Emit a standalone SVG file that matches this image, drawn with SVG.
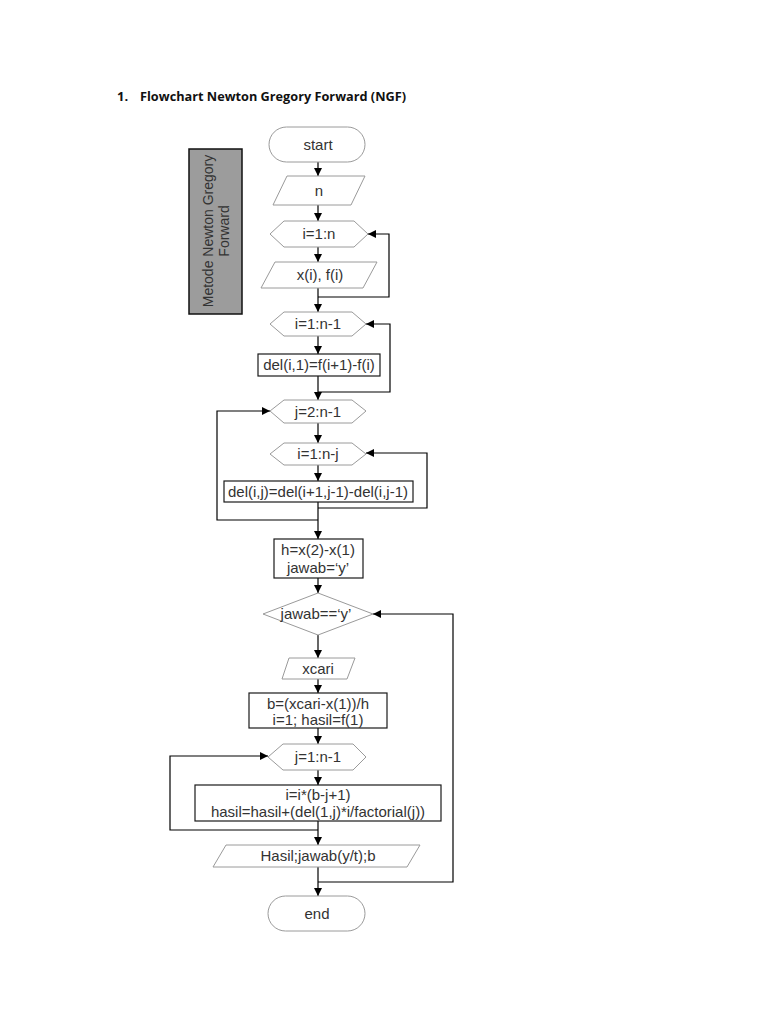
<svg xmlns="http://www.w3.org/2000/svg" width="768" height="1024" viewBox="0 0 768 1024">
<defs>
<marker id="arr" markerUnits="userSpaceOnUse" markerWidth="9" markerHeight="8" refX="8" refY="4" orient="auto">
<path d="M0,0 L8,4 L0,8 z" fill="#000"/>
</marker>
<style>
.soft{fill:#fff;stroke:#9a9a9a;stroke-width:1}
.box{fill:#fff;stroke:#1a1a1a;stroke-width:1.2}
.t{font-family:"Liberation Sans",Arial,sans-serif;font-size:15px;fill:#333;text-anchor:middle}
.s{font-family:"Liberation Sans",Arial,sans-serif;font-size:14px;fill:#333;text-anchor:middle}
.c{fill:none;stroke:#000;stroke-width:1.2;marker-end:url(#arr)}
</style>
</defs>
<rect width="768" height="1024" fill="#fff"/>
<text x="117" y="101" font-family="'Open Sans','Liberation Sans',sans-serif" font-weight="bold" font-size="13" fill="#111">1.</text>
<text x="140" y="101" font-family="'Open Sans','Liberation Sans',sans-serif" font-weight="bold" font-size="13" fill="#111" textLength="266" lengthAdjust="spacingAndGlyphs">Flowchart Newton Gregory Forward (NGF)</text>

<g id="side-label">
<rect x="189" y="149" width="53" height="165" fill="#9c9c9c" stroke="#111" stroke-width="1.5"/>
<text class="s" transform="translate(213,231) rotate(-90)">Metode Newton Gregory</text>
<text class="s" transform="translate(229,231) rotate(-90)">Forward</text>
</g>

<g id="connectors">
<path class="c" d="M318,162 V176"/>
<path class="c" d="M318,205 V221"/>
<path class="c" d="M318,247 V262"/>
<path class="c" d="M318,288 V312"/>
<path class="c" d="M318,297 H389 V234 H368"/>
<path class="c" d="M318,336 V354"/>
<path class="c" d="M318,376 V400"/>
<path class="c" d="M318,392 H390 V324 H366"/>
<path class="c" d="M318,423 V443"/>
<path class="c" d="M318,465 V481"/>
<path class="c" d="M318,502 V539"/>
<path class="c" d="M318,508 H427 V453 H366"/>
<path class="c" d="M318,520 H217 V411 H270"/>
<path class="c" d="M318,578 V593"/>
<path class="c" d="M318,635 V658"/>
<path class="c" d="M318,679 V693"/>
<path class="c" d="M318,728 V744"/>
<path class="c" d="M318,770 V785"/>
<path class="c" d="M318,821 V845"/>
<path class="c" d="M318,830 H170 V756 H268"/>
<path class="c" d="M318,867 V896"/>
<path class="c" d="M318,882 H453 V614 H373"/>
</g>

<g id="start">
<rect class="soft" x="269" y="127" width="96" height="35" rx="17.5"/>
<text class="t" x="318" y="150">start</text>
</g>
<g id="input-n">
<polygon class="soft" points="287,176 365,176 351,205 273,205"/>
<text class="t" x="319" y="196">n</text>
</g>
<g id="loop-i-n">
<polygon class="soft" points="270,234 284,221 354,221 368,234 354,247 284,247"/>
<text class="t" x="319" y="239">i=1:n</text>
</g>
<g id="input-xf">
<polygon class="soft" points="275,262 377,262 363,288 261,288"/>
<text class="t" x="320" y="280">x(i), f(i)</text>
</g>
<g id="loop-i-n1">
<polygon class="soft" points="270,324 284,312 352,312 366,324 352,336 284,336"/>
<text class="t" x="318" y="329">i=1:n-1</text>
</g>
<g id="del-i1">
<rect class="box" x="258" y="354" width="122" height="22"/>
<text class="t" x="319" y="370">del(i,1)=f(i+1)-f(i)</text>
</g>
<g id="loop-j">
<polygon class="soft" points="270,411 284,400 352,400 366,411 352,423 284,423"/>
<text class="t" x="318" y="417">j=2:n-1</text>
</g>
<g id="loop-i-nj">
<polygon class="soft" points="270,454 284,443 352,443 366,454 352,465 284,465"/>
<text class="t" x="318" y="459">i=1:n-j</text>
</g>
<g id="del-ij">
<rect class="box" x="224" y="481" width="189" height="21"/>
<text class="t" x="318" y="497">del(i,j)=del(i+1,j-1)-del(i,j-1)</text>
</g>
<g id="init-h">
<rect class="box" x="274" y="539" width="89" height="39"/>
<text class="t" x="318" y="555">h=x(2)-x(1)</text>
<text class="t" x="318" y="573">jawab=‘y’</text>
</g>
<g id="decision">
<polygon class="soft" points="318,593 373,614 318,635 263,614"/>
<text class="t" x="316" y="619">jawab==‘y’</text>
</g>
<g id="input-xcari">
<polygon class="soft" points="289,658 355,658 347,679 282,679"/>
<text class="t" x="318" y="674">xcari</text>
</g>
<g id="calc-b">
<rect class="box" x="249" y="693" width="138" height="35"/>
<text class="t" x="318" y="709">b=(xcari-x(1))/h</text>
<text class="t" x="318" y="725">i=1; hasil=f(1)</text>
</g>
<g id="loop-j1">
<polygon class="soft" points="268,757 283,744 353,744 366,757 353,770 283,770"/>
<text class="t" x="318" y="762">j=1:n-1</text>
</g>
<g id="calc-hasil">
<rect class="box" x="195" y="785" width="246" height="36"/>
<text class="t" x="318" y="800">i=i*(b-j+1)</text>
<text class="t" x="318" y="817">hasil=hasil+(del(1,j)*i/factorial(j))</text>
</g>
<g id="output">
<polygon class="soft" points="226,845 420,845 407,867 213,867"/>
<text class="t" x="318" y="861">Hasil;jawab(y/t);b</text>
</g>
<g id="end">
<rect class="soft" x="268" y="896" width="97" height="35" rx="17.5"/>
<text class="t" x="317" y="919">end</text>
</g>
</svg>
